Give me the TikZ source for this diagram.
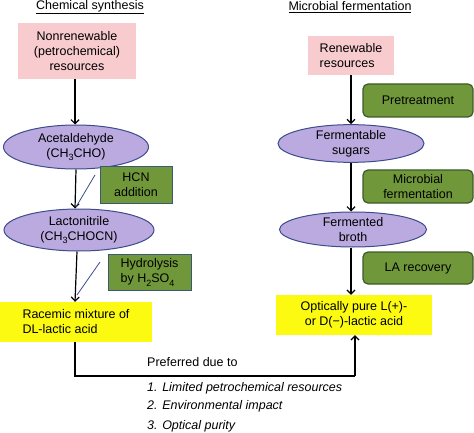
\documentclass[tikz,border=0pt]{standalone}
\usepackage{fontspec}
\setmainfont{Liberation Sans}
\usetikzlibrary{shapes.geometric,arrows.meta}
\definecolor{pinkbox}{HTML}{F8CBCF}
\definecolor{lav}{HTML}{BAAADF}
\definecolor{ellborder}{HTML}{3C4C8C}
\definecolor{grn}{HTML}{70983A}
\definecolor{grnborderL}{HTML}{3A5878}
\definecolor{grnborderR}{HTML}{3E5A2A}
\definecolor{ylw}{HTML}{FCFA10}
\newcommand\lowsub[1]{\raisebox{-0.6ex}{\fontsize{9}{9}\selectfont #1}}
\tikzset{
  pinkrect/.style={rectangle, fill=pinkbox, draw=none, align=center, inner sep=0pt},
  lavell/.style={ellipse, fill=lav, draw=ellborder, line width=1pt, align=center, inner sep=0pt},
  grnL/.style={rectangle, fill=grn, draw=grnborderL, line width=1pt, align=center, inner sep=0pt},
  grnR/.style={rectangle, rounded corners=5pt, fill=grn, draw=grnborderR, line width=1.2pt, align=center, inner sep=0pt},
  ylwrect/.style={rectangle, fill=ylw, draw=none, inner sep=0pt},
  arr/.style={line width=1.2pt, -{Straight Barb[length=4pt,width=8pt]}},
  thin/.style={line width=0.8pt, draw=ellborder},
  plain/.style={line width=1.2pt},
  txt/.style={inner sep=0pt, anchor=west}
}
\begin{document}
\begin{tikzpicture}[x=1pt,y=-1pt, font=\fontsize{12.5}{15}\selectfont]
\useasboundingbox (0,0) rectangle (474,433);

% titles
\node[inner sep=0pt] (t1) at (90,7) {\underline{Chemical synthesis}};
\node[inner sep=0pt] (t2) at (350,7) {\underline{Microbial fermentation}};

% left column
\node[pinkrect, minimum width=118pt, minimum height=56pt] (pinkL) at (77,51) {Nonrenewable\\(petrochemical)\\resources};
\node[lavell, minimum width=145pt, minimum height=44pt] (acet) at (76,147) {Acetaldehyde\\(CH\lowsub{3}CHO)};
\node[grnL, minimum width=72pt, minimum height=36pt] (hcn) at (136,185) {HCN\\addition};
\node[lavell, minimum width=150pt, minimum height=42pt] (lacto) at (79,230) {Lactonitrile\\(CH\lowsub{3}CHOCN)};
\node[grnL, minimum width=83pt, minimum height=36pt, align=left] (hyd) at (149.5,272) {Hydrolysis\\by H\lowsub{2}SO\lowsub{4}};
\node[ylwrect, minimum width=152pt, minimum height=40pt, align=left] (ylwL) at (76,322) {Racemic mixture of\\DL-lactic acid};

% right column
\node[pinkrect, minimum width=86pt, minimum height=39pt, align=left] (pinkR) at (351,55.5) {Renewable\\resources};
\node[grnR, minimum width=110pt, minimum height=33pt] (pre) at (418,100.5) {Pretreatment};
\node[lavell, minimum width=146pt, minimum height=37pt] (sug) at (351,143.5) {Fermentable\\sugars};
\node[grnR, minimum width=110pt, minimum height=33pt] (mic) at (418,186.5) {Microbial\\fermentation};
\node[lavell, minimum width=147pt, minimum height=35pt] (broth) at (353,229.5) {Fermented\\broth};
\node[grnR, minimum width=110pt, minimum height=32pt] (lar) at (418,268) {LA recovery};
\node[ylwrect, minimum width=156pt, minimum height=40pt, align=center] (ylwR) at (354,315) {Optically pure L(+)-\\or D(\textminus)-lactic acid};

% bottom texts
\node[txt] (pref) at (147,362) {Preferred due to};
\node[txt] (r1) at (147,388) {\itshape 1. Limited petrochemical resources};
\node[txt] (r2) at (147,406) {\itshape 2. Environmental impact};
\node[txt] (r3) at (147,426) {\itshape 3. Optical purity};

% left connectors
\draw[arr] (pinkL.south -| 75,0) -- (acet.north -| 75,0);
\draw[arr] (acet.south) -- (lacto.north -| 75,0);
\coordinate (s1) at (95,175);
\draw[thin] (s1) -- (76,207);
\draw[arr] (lacto.south -| 77,0) -- (ylwL.north -| 75,0);
\coordinate (s2) at (100,262);
\draw[thin] (s2) -- (77,295);

% right connectors
\draw[arr] (pinkR.south) -- (sug.north);
\draw[arr] (sug.south) -- (broth.north -| sug.south);
\draw[arr] (broth.south -| sug.south) -- (ylwR.north -| sug.south);

% bottom connector
\coordinate (c) at (355,376);
\draw[plain] (ylwL.south -| 75,0) -- (75,376) -- (c);
\draw[arr] (c) -- (ylwR.south -| c);
\end{tikzpicture}
\end{document}
